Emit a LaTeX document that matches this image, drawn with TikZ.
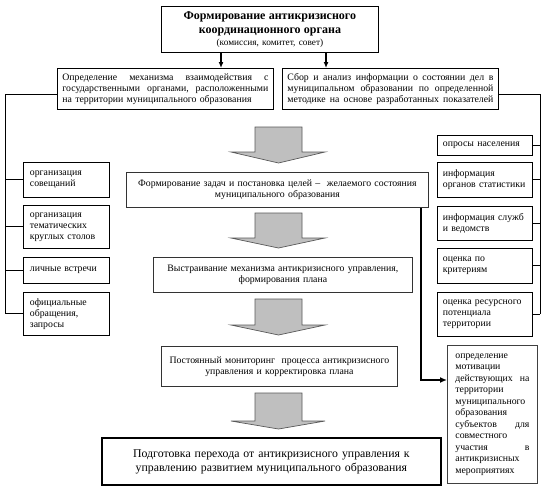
\documentclass[tikz,border=0pt]{standalone}
\usepackage{fontspec}
\setmainfont{Liberation Serif}
\usetikzlibrary{arrows.meta}
\tikzset{
 x=1pt, y=-1pt,
 box/.style={draw=black, line width=0.8pt, fill=white, inner xsep=5pt, inner ysep=1pt,
   font=\fontsize{9.8}{11}\selectfont, anchor=north west},
 sidebox/.style={box, inner xsep=6.5pt, text width=73pt, align=left},
 rsidebox/.style={box, inner xsep=5.5pt, text width=84pt, align=left},
 midbox/.style={box, draw=black!80, align=center},
 conn/.style={line width=1pt},
 arr/.style={line width=1.2pt, -{Latex[length=6pt,width=5pt]}},
 thickarr/.style={line width=1.8pt, -{Latex[length=7pt,width=6pt]}},
 barrow/.style={fill=gray!50, draw=black!65, line width=0.7pt},
}
% justified line: words separated by \hfill
\newcommand{\jline}[2]{\leavevmode\hbox to #1{#2}}
\newcommand{\barr}[3]{\draw[barrow] (255,#1) -- (302,#1) -- (302,#2) -- (325,#2) -- (278.5,#3) -- (231,#2) -- (255,#2) -- cycle;}
\begin{document}
\begin{tikzpicture}
\fill[white] (0,0) rectangle (545,488);
\useasboundingbox (0,0) rectangle (545,488);

% top
\node[box, text width=207pt, minimum height=46pt, align=center] (top) at (161,6)
 {{\bfseries\fontsize{12}{14}\selectfont Формирование антикризисного\\ координационного органа\par}%
  {\fontsize{9.3}{12}\selectfont (комиссия, комитет, совет)\par}};

% second row
\node[box, text width=206pt, minimum height=41pt, align=left] (l2) at (57,68)
 {\jline{206pt}{Определение\hfill механизма\hfill взаимодействия\hfill с}\\
  \jline{206pt}{государственными\hfill органами,\hfill расположенными}\\
  на территории муниципального образования};
\node[box, text width=206pt, minimum height=41pt, align=left] (r2) at (282,68)
 {\jline{206pt}{Сбор\hfill и\hfill анализ\hfill информации\hfill о\hfill состоянии\hfill дел\hfill в}\\
  \jline{206pt}{муниципальном\hfill образовании\hfill по\hfill определенной}\\
  \jline{206pt}{методике\hfill на\hfill основе\hfill разработанных\hfill показателей}};

% centre boxes
\node[midbox, text width=292pt, minimum height=35pt] (b1) at (126,172)
 {Формирование задач и постановка целей – \ желаемого состояния\\ муниципального образования};
\node[midbox, text width=249pt, minimum height=35pt] (b2) at (153,257)
 {Выстраивание механизма антикризисного управления,\\ формирования плана};
\node[midbox, text width=226pt, minimum height=40pt] (b3) at (161,346)
 {Постоянный мониторинг \ процесса антикризисного\\ управления и корректировка плана};
\node[box, line width=1.8pt, text width=329pt, minimum height=47pt, align=center,
      font=\fontsize{11.8}{14}\selectfont] (fin) at (101,437)
 {Подготовка перехода от антикризисного управления к\\ управлению развитием муниципального образования};

% left boxes
\node[sidebox, minimum height=35pt] (lb1) at (23,162) {организация\\ совещаний};
\node[sidebox, minimum height=43pt] (lb2) at (23,205) {организация\\ тематических\\ круглых столов};
\node[sidebox, minimum height=26pt] (lb3) at (23,257) {личные встречи};
\node[sidebox, minimum height=43pt] (lb4) at (23,292) {официальные\\ обращения,\\ запросы};

% right boxes
\node[rsidebox, minimum height=20pt] (rb1) at (437,135) {опросы населения};
\node[rsidebox, minimum height=35pt] (rb2) at (437,162) {информация\\ органов статистики};
\node[rsidebox, minimum height=34pt] (rb3) at (437,206) {информация служб\\ и ведомств};
\node[rsidebox, minimum height=35pt] (rb4) at (437,248) {оценка по\\ критериям};
\node[rsidebox, minimum height=44pt] (rb5) at (437,292) {оценка ресурсного\\ потенциала\\ территории};
\node[box, draw=black!75, inner xsep=8pt, text width=74pt, minimum height=138pt, align=left,
      font=\fontsize{9.8}{11.5}\selectfont] (rb6) at (447,345)
 {определение\\ мотивации\\ \jline{74pt}{действующих\hfill на}\\ территории\\ муниципального\\ образования\\
  \jline{74pt}{субъектов\hfill для}\\ совместного\\ \jline{74pt}{участия\hfill в}\\ антикризисных\\ мероприятиях};

% block arrows
\barr{127}{152}{163}
\barr{213}{238}{248}
\barr{299}{325}{335}
\barr{393}{421}{429}

% top arrows
\coordinate (a1) at (221,0);
\coordinate (a2) at (326,0);
\draw[arr] (top.south -| a1) -- (l2.north -| a1);
\draw[arr] (top.south -| a2) -- (r2.north -| a2);

% left bus
\coordinate (hl) at (5,94);
\draw[conn] (l2.west |- hl) -- (hl) -- (hl |- lb4.west);
\foreach \n in {lb1,lb2,lb3,lb4} \draw[conn] (hl |- \n.west) -- (\n.west);

% right bus
\coordinate (hr) at (540,94);
\draw[conn] (r2.east |- hr) -- (hr) -- (hr |- rb5.east);
\foreach \n in {rb1,rb2,rb3,rb4,rb5} \draw[conn] (hr |- \n.east) -- (\n.east);

% thick arrow
\coordinate (ha) at (421,380);
\draw[thickarr] (b1.south -| ha) -- (ha) -- (ha -| rb6.west);
\end{tikzpicture}
\end{document}
